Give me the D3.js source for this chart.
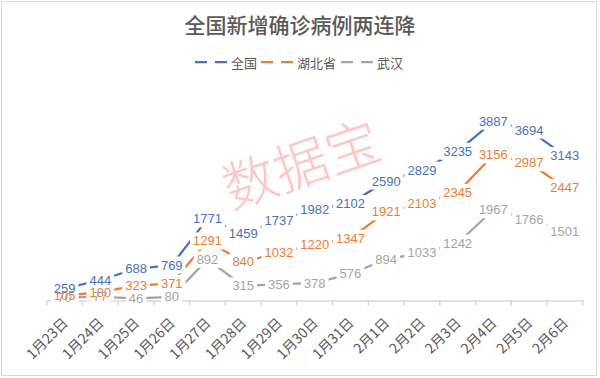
<!DOCTYPE html>
<html>
<head>
<meta charset="utf-8">
<script src="https://cdn.jsdelivr.net/npm/d3@7/dist/d3.min.js"></script>
<style>
  html, body { margin: 0; padding: 0; background: #fff; }
  svg { display: block; }
</style>
</head>
<body>
<svg id="chart" width="600" height="378"></svg>
<script>
const categories = ["1月23日","1月24日","1月25日","1月26日","1月27日","1月28日","1月29日","1月30日","1月31日","2月1日","2月2日","2月3日","2月4日","2月5日","2月6日"];
const national = [259, 444, 688, 769, 1771, 1459, 1737, 1982, 2102, 2590, 2829, 3235, 3887, 3694, 3143];
const hubei    = [105, 180, 323, 371, 1291, 840, 1032, 1220, 1347, 1921, 2103, 2345, 3156, 2987, 2447];
const wuhan    = [70, 77, 46, 80, 892, 315, 356, 378, 576, 894, 1033, 1242, 1967, 1766, 1501];
const seriesNames = ["全国", "湖北省", "武汉"];
const title = "全国新增确诊病例两连降";
const watermark = "数据宝";

const colors = ["#4472C4", "#ED7D31", "#A5A5A5"];
const series = [national, hubei, wuhan].map((v, i) => ({ name: seriesNames[i], values: v, color: colors[i] }));

const svg = d3.select("#chart");
const cjk = "'Noto Sans CJK SC', 'Noto Sans', sans-serif";
const num = "'Liberation Sans', 'Noto Sans CJK SC', sans-serif";

// border
svg.append("rect").attr("x", 1.5).attr("y", 1.5).attr("width", 595).attr("height", 374)
  .attr("fill", "#fff").attr("stroke", "#d9d9d9").attr("stroke-width", 1);

const x = d3.scaleBand().domain(categories).range([46.7, 582.7]);
const y = d3.scaleLinear().domain([0, 4500]).range([300.5, 93]);

// title
svg.append("text").attr("x", 300).attr("y", 24).attr("text-anchor", "middle")
  .attr("dominant-baseline", "central")
  .attr("font-family", cjk).attr("font-size", 21).attr("font-weight", 500)
  .attr("fill", "#595959").text(title);

// watermark
svg.append("text").attr("transform", "translate(300,161) rotate(-19)")
  .attr("text-anchor", "middle").attr("dominant-baseline", "central")
  .attr("font-family", cjk).attr("font-size", 54).attr("font-weight", 300)
  .attr("fill", "#ffc6c6").text(watermark);

// legend
const legendX = [195, 261, 341];
series.forEach((s, i) => {
  const g = svg.append("g").attr("transform", `translate(${legendX[i]},62)`);
  g.append("line").attr("x1", 0).attr("x2", 32).attr("y1", 0).attr("y2", 0)
    .attr("stroke", s.color).attr("stroke-width", 2.25).attr("stroke-dasharray", "12,8");
  g.append("text").attr("x", 36).attr("y", 0).attr("dominant-baseline", "central")
    .attr("font-family", cjk).attr("font-size", 13).attr("fill", "#595959").text(s.name);
});

// x axis
const xAxis = d3.axisBottom(x).tickSize(0).tickFormat(d => d);
const gx = svg.append("g").attr("transform", `translate(0,${y(0)})`).call(xAxis);
gx.select(".domain").attr("stroke", "#d9d9d9").attr("stroke-width", 1.5);
const bounds = categories.map(c => x(c)).concat([x.range()[1]]);
gx.selectAll(".btick").data(bounds).enter().append("line").attr("class", "btick")
  .attr("x1", d => d).attr("x2", d => d).attr("y1", 0).attr("y2", 5)
  .attr("stroke", "#d9d9d9").attr("stroke-width", 1.5);
gx.selectAll(".tick text")
  .attr("font-family", cjk).attr("font-size", 14).attr("fill", "#595959")
  .attr("text-anchor", "end").attr("dy", null).attr("x", 0).attr("y", 0)
  .attr("dominant-baseline", "central")
  .attr("transform", "translate(0,19) rotate(-45)");

// lines
const cx = c => x(c) + x.bandwidth() / 2;
const line = d3.line().x((d, i) => cx(categories[i])).y(d => y(d));
series.forEach(s => {
  svg.append("path").datum(s.values).attr("d", line).attr("fill", "none")
    .attr("stroke", s.color).attr("stroke-width", 2.25).attr("stroke-linejoin", "round");
});

// label backgrounds first, then texts
const bgLayer = svg.append("g");
const txtLayer = svg.append("g");
series.forEach(s => {
  s.values.forEach((v, i) => {
    const t = txtLayer.append("text").attr("x", cx(categories[i])).attr("y", y(v))
      .attr("text-anchor", "middle").attr("dominant-baseline", "central")
      .attr("font-family", num).attr("font-size", 13).attr("fill", s.color).text(v);
    const bb = t.node().getBBox();
    bgLayer.append("rect").attr("x", bb.x - 3).attr("y", bb.y - 1)
      .attr("width", bb.width + 6).attr("height", bb.height + 2).attr("fill", "#fff");
  });
});
</script>
</body>
</html>
